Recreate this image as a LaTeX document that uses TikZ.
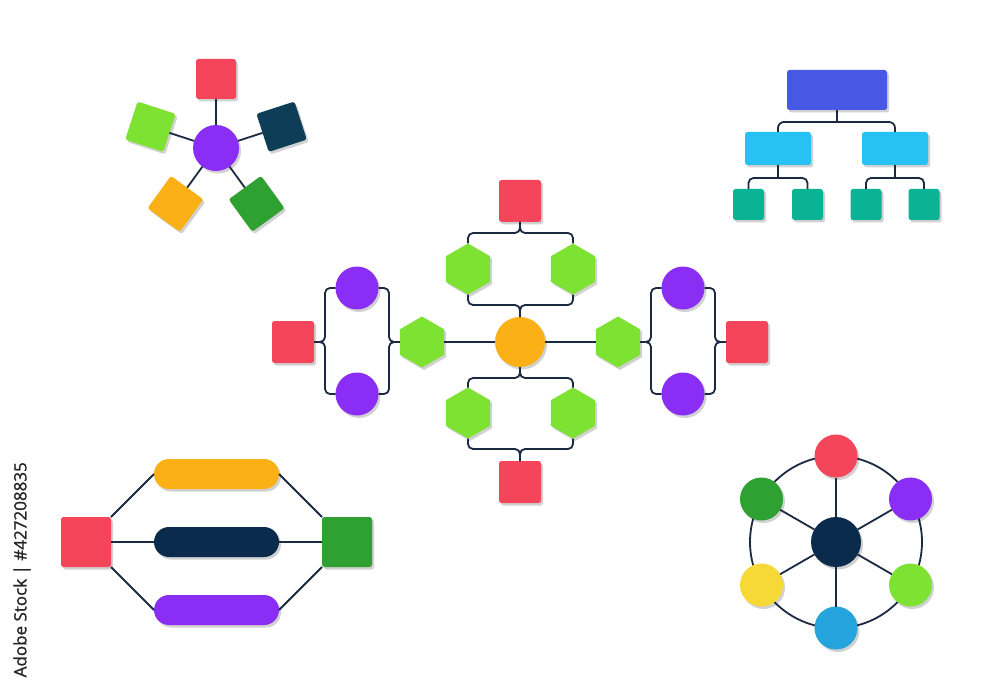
\documentclass[tikz,border=0pt]{standalone}
\usepackage{fontspec}
\newfontfamily\wmfont[FakeBold=1.2]{Open Sans}
\usetikzlibrary{shapes.geometric,shapes.misc,shadows,calc}
\definecolor{linec}{HTML}{1B2A41}
\definecolor{cred}{HTML}{F4455A}
\definecolor{cpurple}{HTML}{8A2EF5}
\definecolor{clime}{HTML}{7EE232}
\definecolor{cdteal}{HTML}{0D3D57}
\definecolor{camber}{HTML}{FBB116}
\definecolor{cdgreen}{HTML}{2FA032}
\definecolor{cindigo}{HTML}{4758E4}
\definecolor{csky}{HTML}{27C1F3}
\definecolor{cteal}{HTML}{0AB394}
\definecolor{cnavy}{HTML}{0B2B4C}
\definecolor{cyellow}{HTML}{F6D936}
\definecolor{cblue}{HTML}{24A3DC}
\tikzset{
  shd/.style={drop shadow={shadow xshift=2pt,shadow yshift=-2.5pt,opacity=0.18,fill=black}},
  conn/.style={draw=linec,line width=1.8pt,rounded corners=5pt},
  sqbox/.style={rectangle,rounded corners=2.5pt,minimum size=#1,inner sep=0pt,outer sep=0pt,shd},
  rbox/.style n args={2}{rectangle,rounded corners=2.5pt,minimum width=#1,minimum height=#2,inner sep=0pt,outer sep=0pt,shd},
  dot/.style={circle,minimum size=#1,inner sep=0pt,outer sep=0pt,shd},
  hexa/.style={regular polygon,regular polygon sides=6,shape border rotate=30,minimum size=51pt,inner sep=0pt,outer sep=0pt,fill=clime,shd},
  pill/.style={rounded rectangle,minimum width=125pt,minimum height=30pt,inner sep=0pt,outer sep=0pt,shd},
}
\begin{document}
\begin{tikzpicture}[x=1pt,y=-1pt]
\useasboundingbox (0,0) rectangle (1000,700);
\clip (0,0) rectangle (1000,700);
\fill[white] (0,0) rectangle (1000,700);

% ---------- top-left star ----------
\node[dot=46pt,fill=cpurple] (a0) at (216,148) {};
\node[sqbox=40pt,fill=cred] (a1) at (216,79) {};
\node[sqbox=40pt,fill=cdteal,rotate=18] (a2) at (281.6,126.7) {};
\node[sqbox=40pt,fill=cdgreen,rotate=36] (a3) at (256.6,203.8) {};
\node[sqbox=40pt,fill=camber,rotate=-36] (a4) at (175.4,203.8) {};
\node[sqbox=40pt,fill=clime,rotate=-18] (a5) at (150.4,126.7) {};
\foreach \i in {1,...,5} {\draw[conn] (a0) -- (a\i);}

% ---------- top-right tree ----------
\node[rbox={100pt}{40pt},fill=cindigo] (t0) at (837,90) {};
\node[rbox={66pt}{33pt},fill=csky] (t1) at (778,148.5) {};
\node[rbox={66pt}{33pt},fill=csky] (t2) at (895,148.5) {};
\node[sqbox=31pt,fill=cteal] (t11) at (748.5,204.5) {};
\node[sqbox=31pt,fill=cteal] (t12) at (807.5,204.5) {};
\node[sqbox=31pt,fill=cteal] (t21) at (866,204.5) {};
\node[sqbox=31pt,fill=cteal] (t22) at (924,204.5) {};
\coordinate (j0) at (837,122);
\coordinate (j1) at (778,178);
\coordinate (j2) at (895,178);
\draw[conn] (t0) -- (j0);
\draw[conn,rounded corners=6pt] (t1) |- (j0) -| (t2);
\draw[conn] (t1) -- (j1);
\draw[conn] (t11) |- (j1) -| (t12);
\draw[conn] (t2) -- (j2);
\draw[conn] (t21) |- (j2) -| (t22);

% ---------- centre diagram ----------
\node[dot=50pt,fill=camber] (cc) at (520,342) {};
\node[hexa] (hT1) at (468,269) {};
\node[hexa] (hT2) at (573,269) {};
\node[hexa] (hB1) at (468,413) {};
\node[hexa] (hB2) at (573,413) {};
\node[hexa] (hL) at (422,342) {};
\node[hexa] (hR) at (618,342) {};
\node[sqbox=42pt,fill=cred] (sT) at (520,201) {};
\node[sqbox=42pt,fill=cred] (sB) at (520,482) {};
\node[sqbox=42pt,fill=cred] (sL) at (293,342) {};
\node[sqbox=42pt,fill=cred] (sR) at (747,342) {};
\node[dot=43pt,fill=cpurple] (pL1) at (357,288) {};
\node[dot=43pt,fill=cpurple] (pL2) at (357,394) {};
\node[dot=43pt,fill=cpurple] (pR1) at (683,288) {};
\node[dot=43pt,fill=cpurple] (pR2) at (683,394) {};
\coordinate (k1) at (520,233);
\coordinate (k2) at (520,305);
\coordinate (k3) at (520,378);
\coordinate (k4) at (520,449);
\coordinate (k5) at (325,342);
\coordinate (k6) at (389,342);
\coordinate (k7) at (651,342);
\coordinate (k8) at (715,342);
\draw[conn] (hL) -- (cc) -- (hR);
\draw[conn] (hT1) |- (k1) -- (sT);
\draw[conn] (hT2) |- (k1) -- (sT);
\draw[conn] (hT1) |- (k2) -- (cc);
\draw[conn] (hT2) |- (k2) -- (cc);
\draw[conn] (hB1) |- (k3) -- (cc);
\draw[conn] (hB2) |- (k3) -- (cc);
\draw[conn] (hB1) |- (k4) -- (sB);
\draw[conn] (hB2) |- (k4) -- (sB);
\draw[conn] (pL1) -| (k5) -- (sL);
\draw[conn] (pL2) -| (k5) -- (sL);
\draw[conn] (pL1) -| (k6) -- (hL);
\draw[conn] (pL2) -| (k6) -- (hL);
\draw[conn] (pR1) -| (k7) -- (hR);
\draw[conn] (pR2) -| (k7) -- (hR);
\draw[conn] (pR1) -| (k8) -- (sR);
\draw[conn] (pR2) -| (k8) -- (sR);

% ---------- bottom-left ----------
\node[sqbox=50pt,fill=cred] (bL) at (86,542) {};
\node[sqbox=50pt,fill=cdgreen] (bR) at (347,542) {};
\node[pill,fill=camber] (q1) at (216.5,474) {};
\node[pill,fill=cnavy] (q2) at (216.5,542) {};
\node[pill,fill=cpurple] (q3) at (216.5,610) {};
\draw[conn] (bL.north east) -- (q1.west);
\draw[conn] (bL) -- (q2);
\draw[conn] (bL.south east) -- (q3.west);
\draw[conn] (q1.east) -- (bR.north west);
\draw[conn] (q2) -- (bR);
\draw[conn] (q3.east) -- (bR.south west);

% ---------- bottom-right wheel ----------
\coordinate (rc) at (836,542);
\draw[linec,line width=1.8pt] (rc) circle[radius=86pt];
\node[dot=50pt,fill=cnavy] (hc) at (rc) {};
\node[dot=43pt,fill=cred] (o1) at (836,456) {};
\node[dot=43pt,fill=cpurple] (o2) at (910.5,499) {};
\node[dot=43pt,fill=clime] (o3) at (910.5,585) {};
\node[dot=43pt,fill=cblue] (o4) at (836,628) {};
\node[dot=43pt,fill=cyellow] (o5) at (761.5,585) {};
\node[dot=43pt,fill=cdgreen] (o6) at (761.5,499) {};
\foreach \i in {1,...,6} {\draw[conn] (hc) -- (o\i);}

% ---------- side text ----------
\node[rotate=90,anchor=east,inner sep=0pt,font=\wmfont\fontsize{17}{17}\selectfont,text=black!85] (wm) at (22,462) {Adobe Stock | \#427208835};
\end{tikzpicture}
\end{document}
